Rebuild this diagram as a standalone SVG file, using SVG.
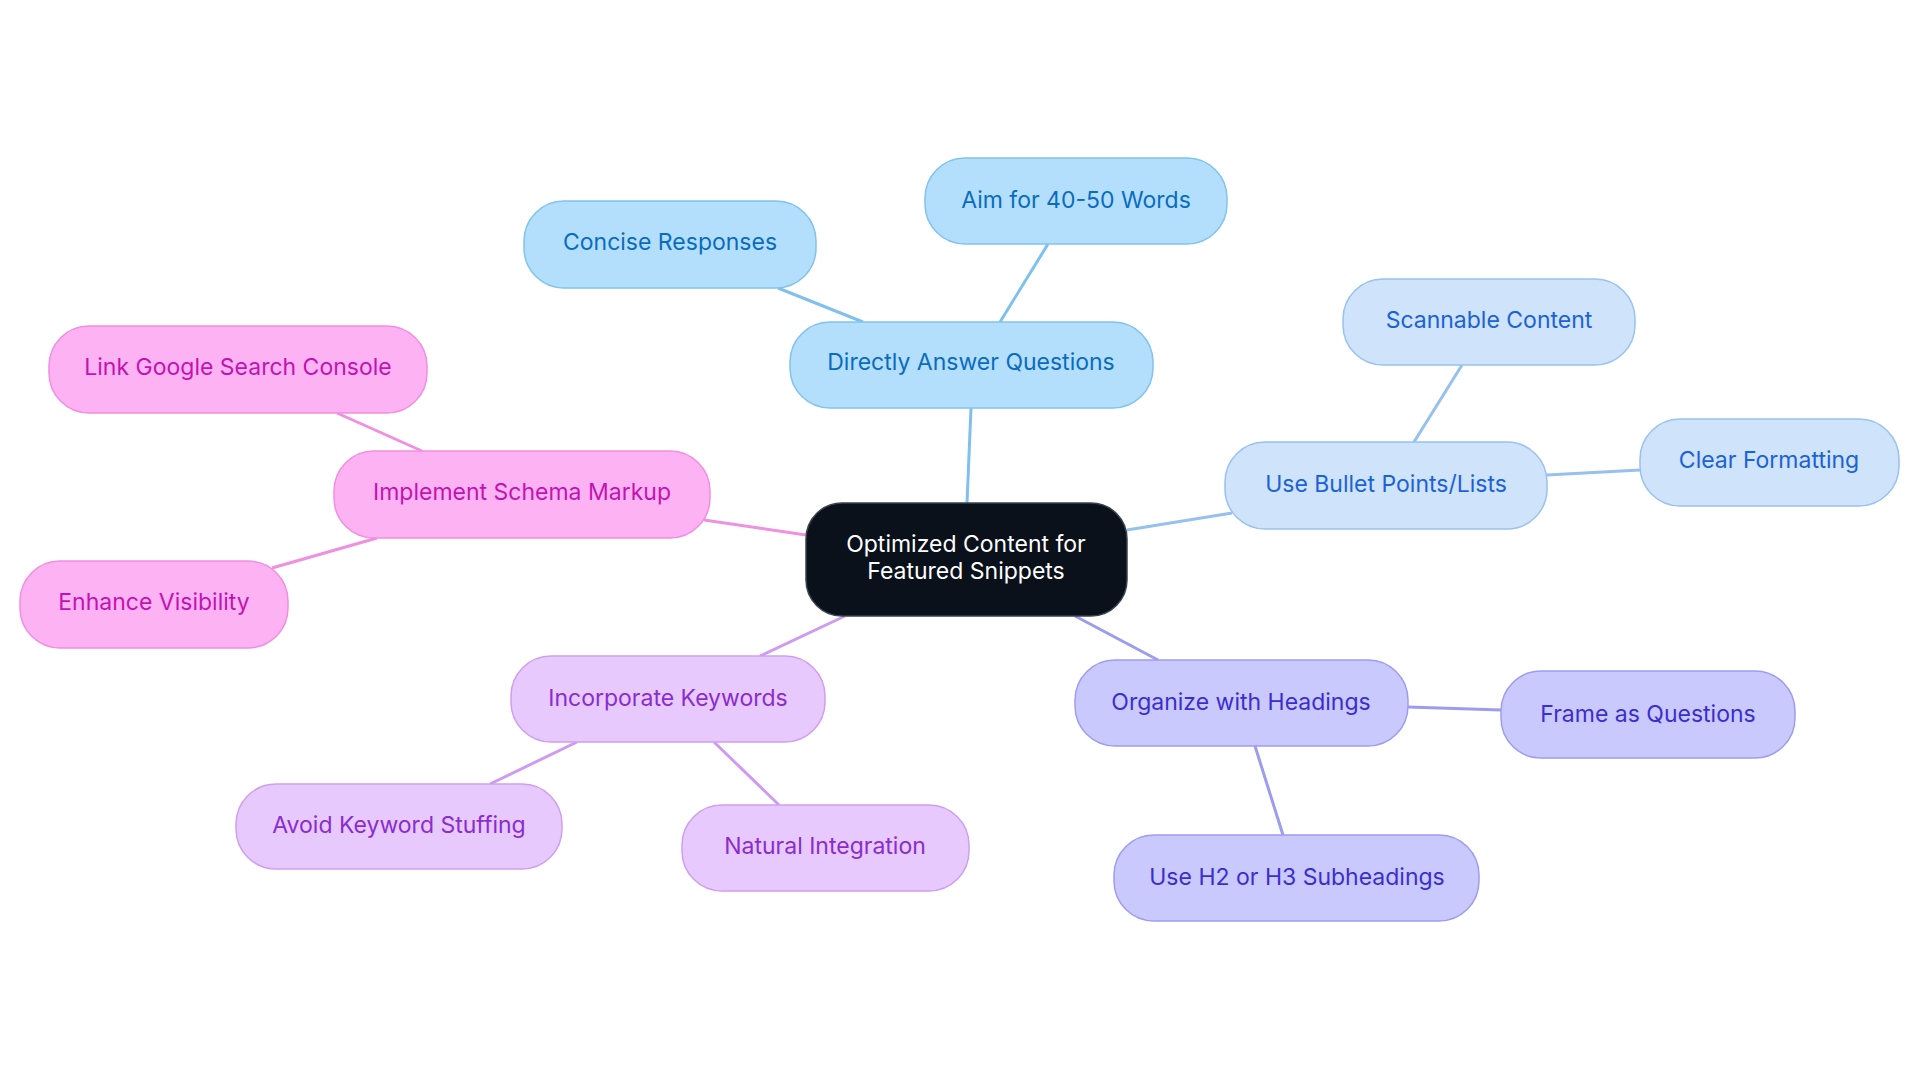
<svg xmlns="http://www.w3.org/2000/svg" width="1920" height="1083" viewBox="0 0 1920 1083">
<style>
text{font-family:Inter,"Noto Sans",sans-serif;font-size:23px;text-anchor:middle;dominant-baseline:central}
rect{stroke-width:1.5}
.c line{stroke-width:3}
.b rect{fill:#b3dffc;stroke:#80c2f0}.b text{fill:#0a6cbf}
.l rect{fill:#cfe3fb;stroke:#98c2f0}.l text{fill:#1a62d6}
.p rect{fill:#c9c9fd;stroke:#9d9cf2}.p text{fill:#3b2ecf}
.v rect{fill:#e8c9fd;stroke:#cf9ef2}.v text{fill:#8a2ccf}
.k rect{fill:#fdb3f3;stroke:#f08ee0}.k text{fill:#c412b2}
</style>
<rect width="1920" height="1083" fill="#fff"/>
<g class="c">
<line x1="967" y1="503" x2="971" y2="408" stroke="#7fc0ee"/>
<line x1="863" y1="322" x2="778" y2="288" stroke="#7fc0ee"/>
<line x1="1000" y1="322" x2="1048" y2="244" stroke="#7fc0ee"/>
<line x1="1127" y1="530" x2="1232" y2="513" stroke="#96c0ee"/>
<line x1="1414" y1="442" x2="1462" y2="365" stroke="#96c0ee"/>
<line x1="1547" y1="475" x2="1640" y2="470" stroke="#96c0ee"/>
<line x1="1075" y1="616" x2="1158" y2="660" stroke="#9c9cf0"/>
<line x1="1408" y1="707" x2="1501" y2="710" stroke="#9c9cf0"/>
<line x1="1255" y1="746" x2="1283" y2="835" stroke="#9c9cf0"/>
<line x1="845" y1="616" x2="760" y2="656" stroke="#cd9cf0"/>
<line x1="577" y1="742" x2="490" y2="784" stroke="#cd9cf0"/>
<line x1="714" y1="742" x2="779" y2="805" stroke="#cd9cf0"/>
<line x1="806" y1="535" x2="704" y2="520" stroke="#f090e0"/>
<line x1="422" y1="451" x2="337" y2="413" stroke="#f090e0"/>
<line x1="377" y1="538" x2="272" y2="568" stroke="#f090e0"/>
</g>
<g id="center"><rect x="806" y="503" width="321" height="113" rx="36" fill="#0b111b" stroke="#3a4250"/><text x="966" y="544" fill="#fff">Optimized Content for</text><text x="966" y="571" fill="#fff">Featured Snippets</text></g>
<g id="direct" class="b"><rect x="790" y="322" width="363" height="86" rx="40"/><text x="971" y="362">Directly Answer Questions</text></g>
<g id="concise" class="b"><rect x="524" y="201" width="292" height="87" rx="40"/><text x="670" y="242">Concise Responses</text></g>
<g id="aim" class="b"><rect x="925" y="158" width="302" height="86" rx="40"/><text x="1076" y="200">Aim for 40-50 Words</text></g>
<g id="bullet" class="l"><rect x="1225" y="442" width="322" height="87" rx="40"/><text x="1386" y="484">Use Bullet Points/Lists</text></g>
<g id="scan" class="l"><rect x="1343" y="279" width="292" height="86" rx="40"/><text x="1489" y="320">Scannable Content</text></g>
<g id="clear" class="l"><rect x="1640" y="419" width="259" height="87" rx="40"/><text x="1769" y="460">Clear Formatting</text></g>
<g id="head" class="p"><rect x="1075" y="660" width="333" height="86" rx="40"/><text x="1241" y="702">Organize with Headings</text></g>
<g id="frame" class="p"><rect x="1501" y="671" width="294" height="87" rx="40"/><text x="1648" y="714">Frame as Questions</text></g>
<g id="h2" class="p"><rect x="1114" y="835" width="365" height="86" rx="40"/><text x="1297" y="877">Use H2 or H3 Subheadings</text></g>
<g id="kw" class="v"><rect x="511" y="656" width="314" height="86" rx="40"/><text x="668" y="698">Incorporate Keywords</text></g>
<g id="avoid" class="v"><rect x="236" y="784" width="326" height="85" rx="40"/><text x="399" y="825">Avoid Keyword Stuffing</text></g>
<g id="natural" class="v"><rect x="682" y="805" width="287" height="86" rx="40"/><text x="825" y="846">Natural Integration</text></g>
<g id="schema" class="k"><rect x="334" y="451" width="376" height="87" rx="40"/><text x="522" y="492">Implement Schema Markup</text></g>
<g id="link" class="k"><rect x="49" y="326" width="378" height="87" rx="40"/><text x="238" y="367">Link Google Search Console</text></g>
<g id="enh" class="k"><rect x="20" y="561" width="268" height="87" rx="40"/><text x="154" y="602">Enhance Visibility</text></g>
</svg>
